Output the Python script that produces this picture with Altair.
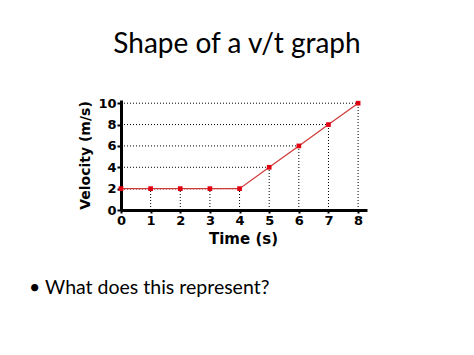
import altair as alt
import pandas as pd

times = [0, 1, 2, 3, 4, 5, 6, 7, 8]
velocity = [2, 2, 2, 2, 2, 4, 6, 8, 10]
x_ticks = [0, 1, 2, 3, 4, 5, 6, 7, 8]
y_ticks = [0, 2, 4, 6, 8, 10]
title_text = "Shape of a v/t graph"
bullet_text = "\u2022  What does this represent?"
x_title = "Time (s)"
y_title = "Velocity (m/s)"

df = pd.DataFrame({"t": times, "v": velocity})

xs = alt.Scale(domain=[0, 8.3], nice=False, zero=False)
ys = alt.Scale(domain=[0, 10.3], nice=False, zero=False)

axis_font = "DejaVu Sans"

x_axis = alt.Axis(values=x_ticks, title=x_title, grid=False, labelOverlap=False,
                  tickSize=3, labelPadding=1,
                  titleFontSize=15, titleX=122, titleY=28, titleBaseline="middle")
y_axis = alt.Axis(values=y_ticks, title=y_title, grid=False, labelOverlap=False,
                  tickSize=4, labelPadding=1,
                  titleFontSize=14, titleX=-36, titleY=55, titleBaseline="middle", titleAngle=-90)

base = alt.Chart(df)

hrule = base.mark_rule(color="black", strokeDash=[1, 2], strokeWidth=1).transform_calculate(
    zero="0").encode(
    x=alt.X("zero:Q", scale=xs, axis=x_axis),
    x2="t:Q",
    y=alt.Y("v:Q", scale=ys, axis=y_axis),
)
vrule = base.mark_rule(color="black", strokeDash=[1, 2], strokeWidth=1).transform_calculate(
    zero="0").encode(
    x=alt.X("t:Q", scale=xs, axis=x_axis),
    y=alt.Y("zero:Q", scale=ys, axis=y_axis),
    y2="v:Q",
)
line = base.mark_line(color="#d03838", strokeWidth=1.2).encode(
    x=alt.X("t:Q", scale=xs, axis=x_axis), y=alt.Y("v:Q", scale=ys, axis=y_axis))
pts = base.mark_point(shape="square", filled=True, size=22, color="#e00010", opacity=1).encode(
    x=alt.X("t:Q", scale=xs, axis=x_axis), y=alt.Y("v:Q", scale=ys, axis=y_axis))

title = alt.Chart(pd.DataFrame({"s": [title_text]})).mark_text(
    font="Lato", fontSize=28, color="black", align="center", baseline="middle").encode(
    text="s:N", x=alt.value(116), y=alt.value(-55))
bullet = alt.Chart(pd.DataFrame({"s": [bullet_text]})).mark_text(
    font="Lato", fontSize=19.5, color="black", align="left", baseline="middle").encode(
    text="s:N", x=alt.value(-92), y=alt.value(188))

chart = alt.layer(hrule, vrule, line, pts, title, bullet).properties(
    width=246, height=110,
    autosize=alt.AutoSizeParams(type="none"),
    padding={"left": 121, "top": 100, "right": 107, "bottom": 145},
    background="white",
).configure_view(stroke=None).configure_axis(
    labelOverlap=False, labelFlush=False, domainWidth=3, domainColor="black",
    tickColor="black", tickWidth=2,
    labelFont=axis_font, labelFontSize=13, labelFontWeight="bold", labelColor="black",
    titleFont=axis_font, titleFontWeight="bold", titleColor="black",
)

chart.save("out.html", embed_options={"renderer": "svg", "actions": False})
